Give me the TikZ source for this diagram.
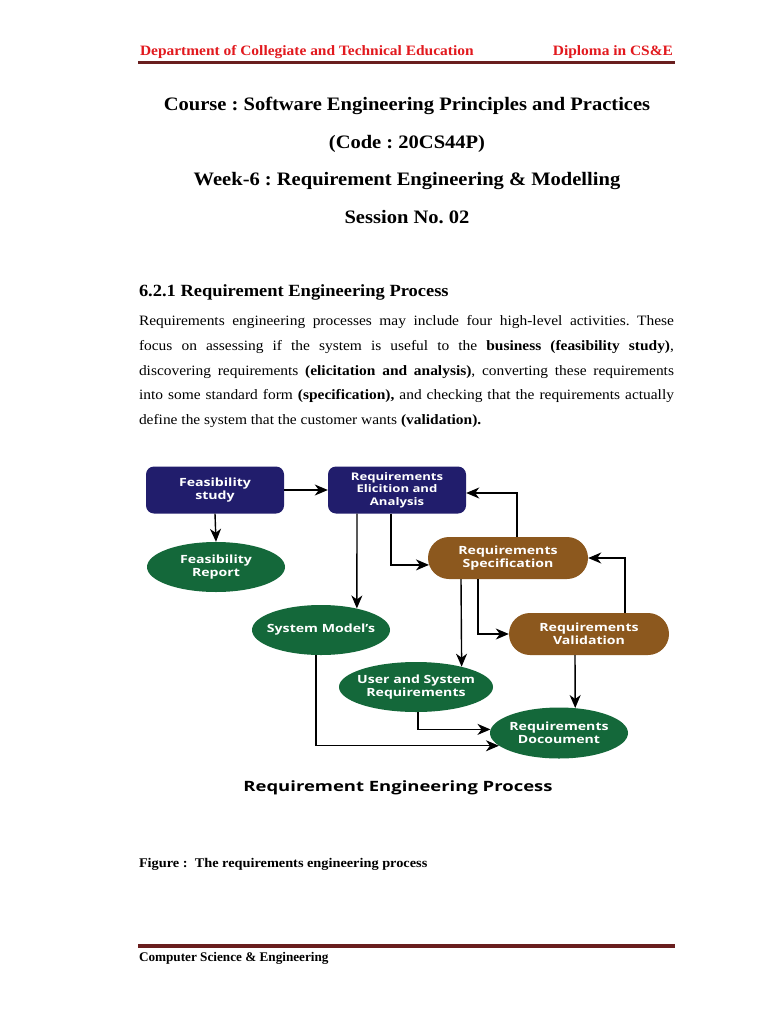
\documentclass[tikz,border=0pt]{standalone}
\usepackage{fontspec}
\setmainfont[FakeStretch=1.08]{Liberation Serif}
\newfontfamily\plainserif{Liberation Serif}
\newfontfamily\diagfont[FakeStretch=1.25]{Open Sans}
\newfontfamily\capfont[FakeStretch=1.3]{Open Sans}
\usetikzlibrary{shapes.geometric,shapes.misc,arrows.meta,calc}
\definecolor{navyc}{RGB}{33,29,108}
\definecolor{greenc}{RGB}{20,104,58}
\definecolor{brownc}{RGB}{140,88,30}
\definecolor{redc}{RGB}{226,25,30}
\definecolor{rulec}{RGB}{105,30,30}
\newcommand{\fsz}[2]{\fontsize{#1}{#2}\selectfont}
\frenchspacing
\begin{document}
\begin{tikzpicture}[x=1pt,y=-1pt,
  txt/.style={inner sep=0pt, outer sep=0pt},
  boxn/.style={fill=navyc, rounded corners=8pt, minimum width=138pt, minimum height=47pt, inner sep=0pt},
  pill/.style={fill=brownc, rounded rectangle, minimum width=160pt, minimum height=42pt, inner sep=0pt},
  oval/.style={fill=greenc, ellipse, minimum width=138pt, minimum height=50pt, inner xsep=-25pt, inner ysep=-8pt},
  lab/.style={text=white, align=center, font=\diagfont\bfseries\fsz{11.3}{13}},
  arr/.style={-{Stealth[length=13pt,width=11pt,inset=4pt]}, line width=1.4pt, black},
  hrule/.style={line width=3.2pt, rulec},
  body/.style={txt, anchor=base west, font=\fsz{14.3}{16}}
]
\useasboundingbox[fill=white] (0,0) rectangle (768,1024);

% header
\node[txt, anchor=base west, text=redc, font=\bfseries\fsz{14.3}{16}] (hl) at (140,56) {Department of Collegiate and Technical Education};
\node[txt, anchor=base east, text=redc, font=\bfseries\fsz{14.3}{16}] (hr) at (673,56) {Diploma in CS\&E};
\coordinate (r1a) at (138,62.7);
\coordinate (r1b) at (675,62.7);
\draw[hrule] (r1a) -- (r1b);

% titles
\node[txt, anchor=base, font=\bfseries\fsz{19}{21}] (t1) at (407,111) {Course : Software Engineering Principles and Practices};
\node[txt, anchor=base, font=\bfseries\fsz{19}{21}] (t2) at (407,148.5) {(Code : 20CS44P)};
\node[txt, anchor=base, font=\bfseries\fsz{19}{21}] (t3) at (407,186) {Week-6 : Requirement Engineering \& Modelling};
\node[txt, anchor=base, font=\bfseries\fsz{19}{21}] (t4) at (407,224) {Session No. 02};

% section heading
\node[txt, anchor=base west, font=\bfseries\fsz{17.1}{19}] (sh) at (139,296.7) {6.2.1 Requirement Engineering Process};

% paragraph
\node[body] (p1) at (139,325.7) {\makebox[535pt][s]{Requirements engineering processes may include four high-level activities. These}};
\node[body] (p2) at (139,350) {\makebox[535pt][s]{focus on assessing if the system is useful to the \textbf{business (feasibility study)},}};
\node[body] (p3) at (139,375) {\makebox[535pt][s]{discovering requirements \textbf{(elicitation and analysis)}, converting these requirements}};
\node[body] (p4) at (139,399.5) {\makebox[535pt][s]{into some standard form \textbf{(specification),} and checking that the requirements actually}};
\node[body] (p5) at (139,424.3) {define the system that the customer wants \textbf{(validation).}};

% diagram nodes
\node[boxn, lab] (fs) at (215,490) {Feasibility\\study};
\node[boxn, lab, font=\diagfont\bfseries\fsz{10.5}{12.3}] (rea) at (397,490) {Requirements\\Elicition and\\Analysis};
\node[oval, lab] (fr) at (216,567) {Feasibility\\Report};
\node[pill, lab] (rs) at (508,558) {Requirements\\Specification};
\node[oval, lab] (sm) at (321,630) {System Model’s};
\node[pill, lab] (rv) at (589,634) {Requirements\\Validation};
\node[oval, lab, minimum width=154pt] (us) at (416,687) {User and System\\Requirements};
\node[oval, lab, minimum height=51pt] (rd) at (559,733) {Requirements\\Docoument};

% connectors
\draw[arr] (fs) -- (rea);
\draw[arr] (fs.south) -- (fr.north);
\draw[arr] ($(rea.south)+(-40,0)$) -- (sm.31);
\draw[arr] ($(rea.south)+(-6,0)$) |- (rs.185);
\draw[arr] ($(rs.north)+(9,0)$) |- ($(rea.east)+(0,3)$);
\draw[arr] ($(rv.north)+(36,0)$) |- (rs.east);
\draw[arr] ($(rs.south)+(-47,0)$) -- (us.24);
\draw[arr] ($(rs.south)+(-30,0)$) |- (rv.west);
\draw[arr] ($(rv.south)+(-14,0)$) -- (rd.57);
\draw[arr] ($(us.south)+(2,0)$) |- (rd.177);
\draw[arr] ($(sm.south)+(-5,0)$) |- (rd.192);

% diagram caption
\node[txt, anchor=base, font=\capfont\bfseries\fsz{14.2}{17}] (dc) at (398,791.5) {Requirement Engineering Process};

% figure caption
\node[txt, anchor=base west, font=\bfseries\fsz{13.25}{15}] (fc) at (139,867.5) {Figure :\ \ The requirements engineering process};

% footer
\coordinate (r2a) at (138,946);
\coordinate (r2b) at (675,946);
\draw[hrule] (r2a) -- (r2b);
\node[txt, anchor=base west, font=\plainserif\bfseries\fsz{13.2}{15}] (ft) at (139,961.7) {Computer Science \& Engineering};
\end{tikzpicture}
\end{document}
